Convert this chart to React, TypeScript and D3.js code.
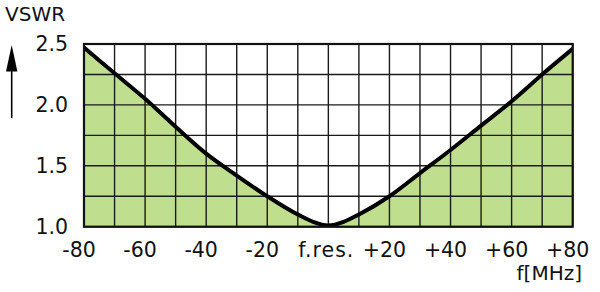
import React from "react";
import * as d3 from "d3";

const freqs = [-80, -70, -60, -50, -40, -30, -20, -10, -5, 0, 5, 10, 20, 30, 40, 50, 60, 70, 80];
const vswr = [2.47, 2.26, 2.05, 1.82, 1.6, 1.42, 1.25, 1.1, 1.04, 1.01, 1.04, 1.1, 1.25, 1.44, 1.63, 1.83, 2.03, 2.25, 2.46];
const xTicks = [-80, -60, -40, -20, 0, 20, 40, 60, 80];
const xTickLabels = ["-80", "-60", "-40", "-20", "f.res.", "+20", "+40", "+60", "+80"];
const yTicks = [1.0, 1.5, 2.0, 2.5];
const xGrid = d3.range(-80, 81, 10);
const yGrid = d3.range(1.0, 2.51, 0.25);

export default function App() {
  const W = 600, H = 292;
  const L = 84, R = 572.7, T = 44, B = 226.7;
  const x = d3.scaleLinear().domain([-80, 80]).range([L, R]);
  const y = d3.scaleLinear().domain([1, 2.5]).range([B, T]);
  const data = freqs.map((f, i) => ({ f, v: vswr[i] }));
  const line = d3.line<any>().x(d => x(d.f)).y(d => y(d.v)).curve(d3.curveMonotoneX);
  const area = d3.area<any>().x(d => x(d.f)).y0(y(1)).y1(d => y(d.v)).curve(d3.curveMonotoneX);
  const font = "'DejaVu Sans', sans-serif";
  return (
    <svg width={W} height={H} style={{ position: "absolute", left: 0, top: 0, display: "block", background: "#fff" }}>
      <defs>
        <clipPath id="plot">
          <rect x={L} y={T} width={R - L} height={B - T} />
        </clipPath>
      </defs>
      <path d={area(data) || ""} fill="#bfdf8e" clipPath="url(#plot)" />
      {xGrid.map(g => (
        <line key={"x" + g} x1={x(g)} x2={x(g)} y1={T} y2={B} stroke="#1a1a1a" strokeWidth={1.4} />
      ))}
      {yGrid.map(g => (
        <line key={"y" + g} x1={L} x2={R} y1={y(g)} y2={y(g)} stroke="#1a1a1a" strokeWidth={1.4} />
      ))}
      <path d={line(data) || ""} fill="none" stroke="#000" strokeWidth={4} clipPath="url(#plot)" strokeLinecap="round" />
      <rect x={L} y={T} width={R - L} height={B - T} fill="none" stroke="#111" strokeWidth={2.2} />
      {yTicks.map(t => (
        <text key={"yl" + t} x={68} y={y(t)} dy="0.36em" textAnchor="end" fontFamily={font} fontSize={20.5} fill="#111">
          {t.toFixed(1)}
        </text>
      ))}
      {xTicks.map((t, i) => (
        <text key={"xl" + t} x={x(t) + (t === 0 ? -2 : -5)} y={257} textAnchor="middle" fontFamily={font} fontSize={20.5} fill="#111" letterSpacing={t === 0 ? 1 : 0}>
          {xTickLabels[i]}
        </text>
      ))}
      <text x={582} y={280} textAnchor="end" fontFamily={font} fontSize={20} fill="#111">f[MHz]</text>
      <text x={5} y={21} fontFamily={font} fontSize={20} fill="#111">VSWR</text>
      <line x1={11.7} x2={11.7} y1={68} y2={118} stroke="#000" strokeWidth={1.6} />
      <path d="M11.7,45 L6,71.5 L17.4,71.5 Z" fill="#000" />
    </svg>
  );
}
